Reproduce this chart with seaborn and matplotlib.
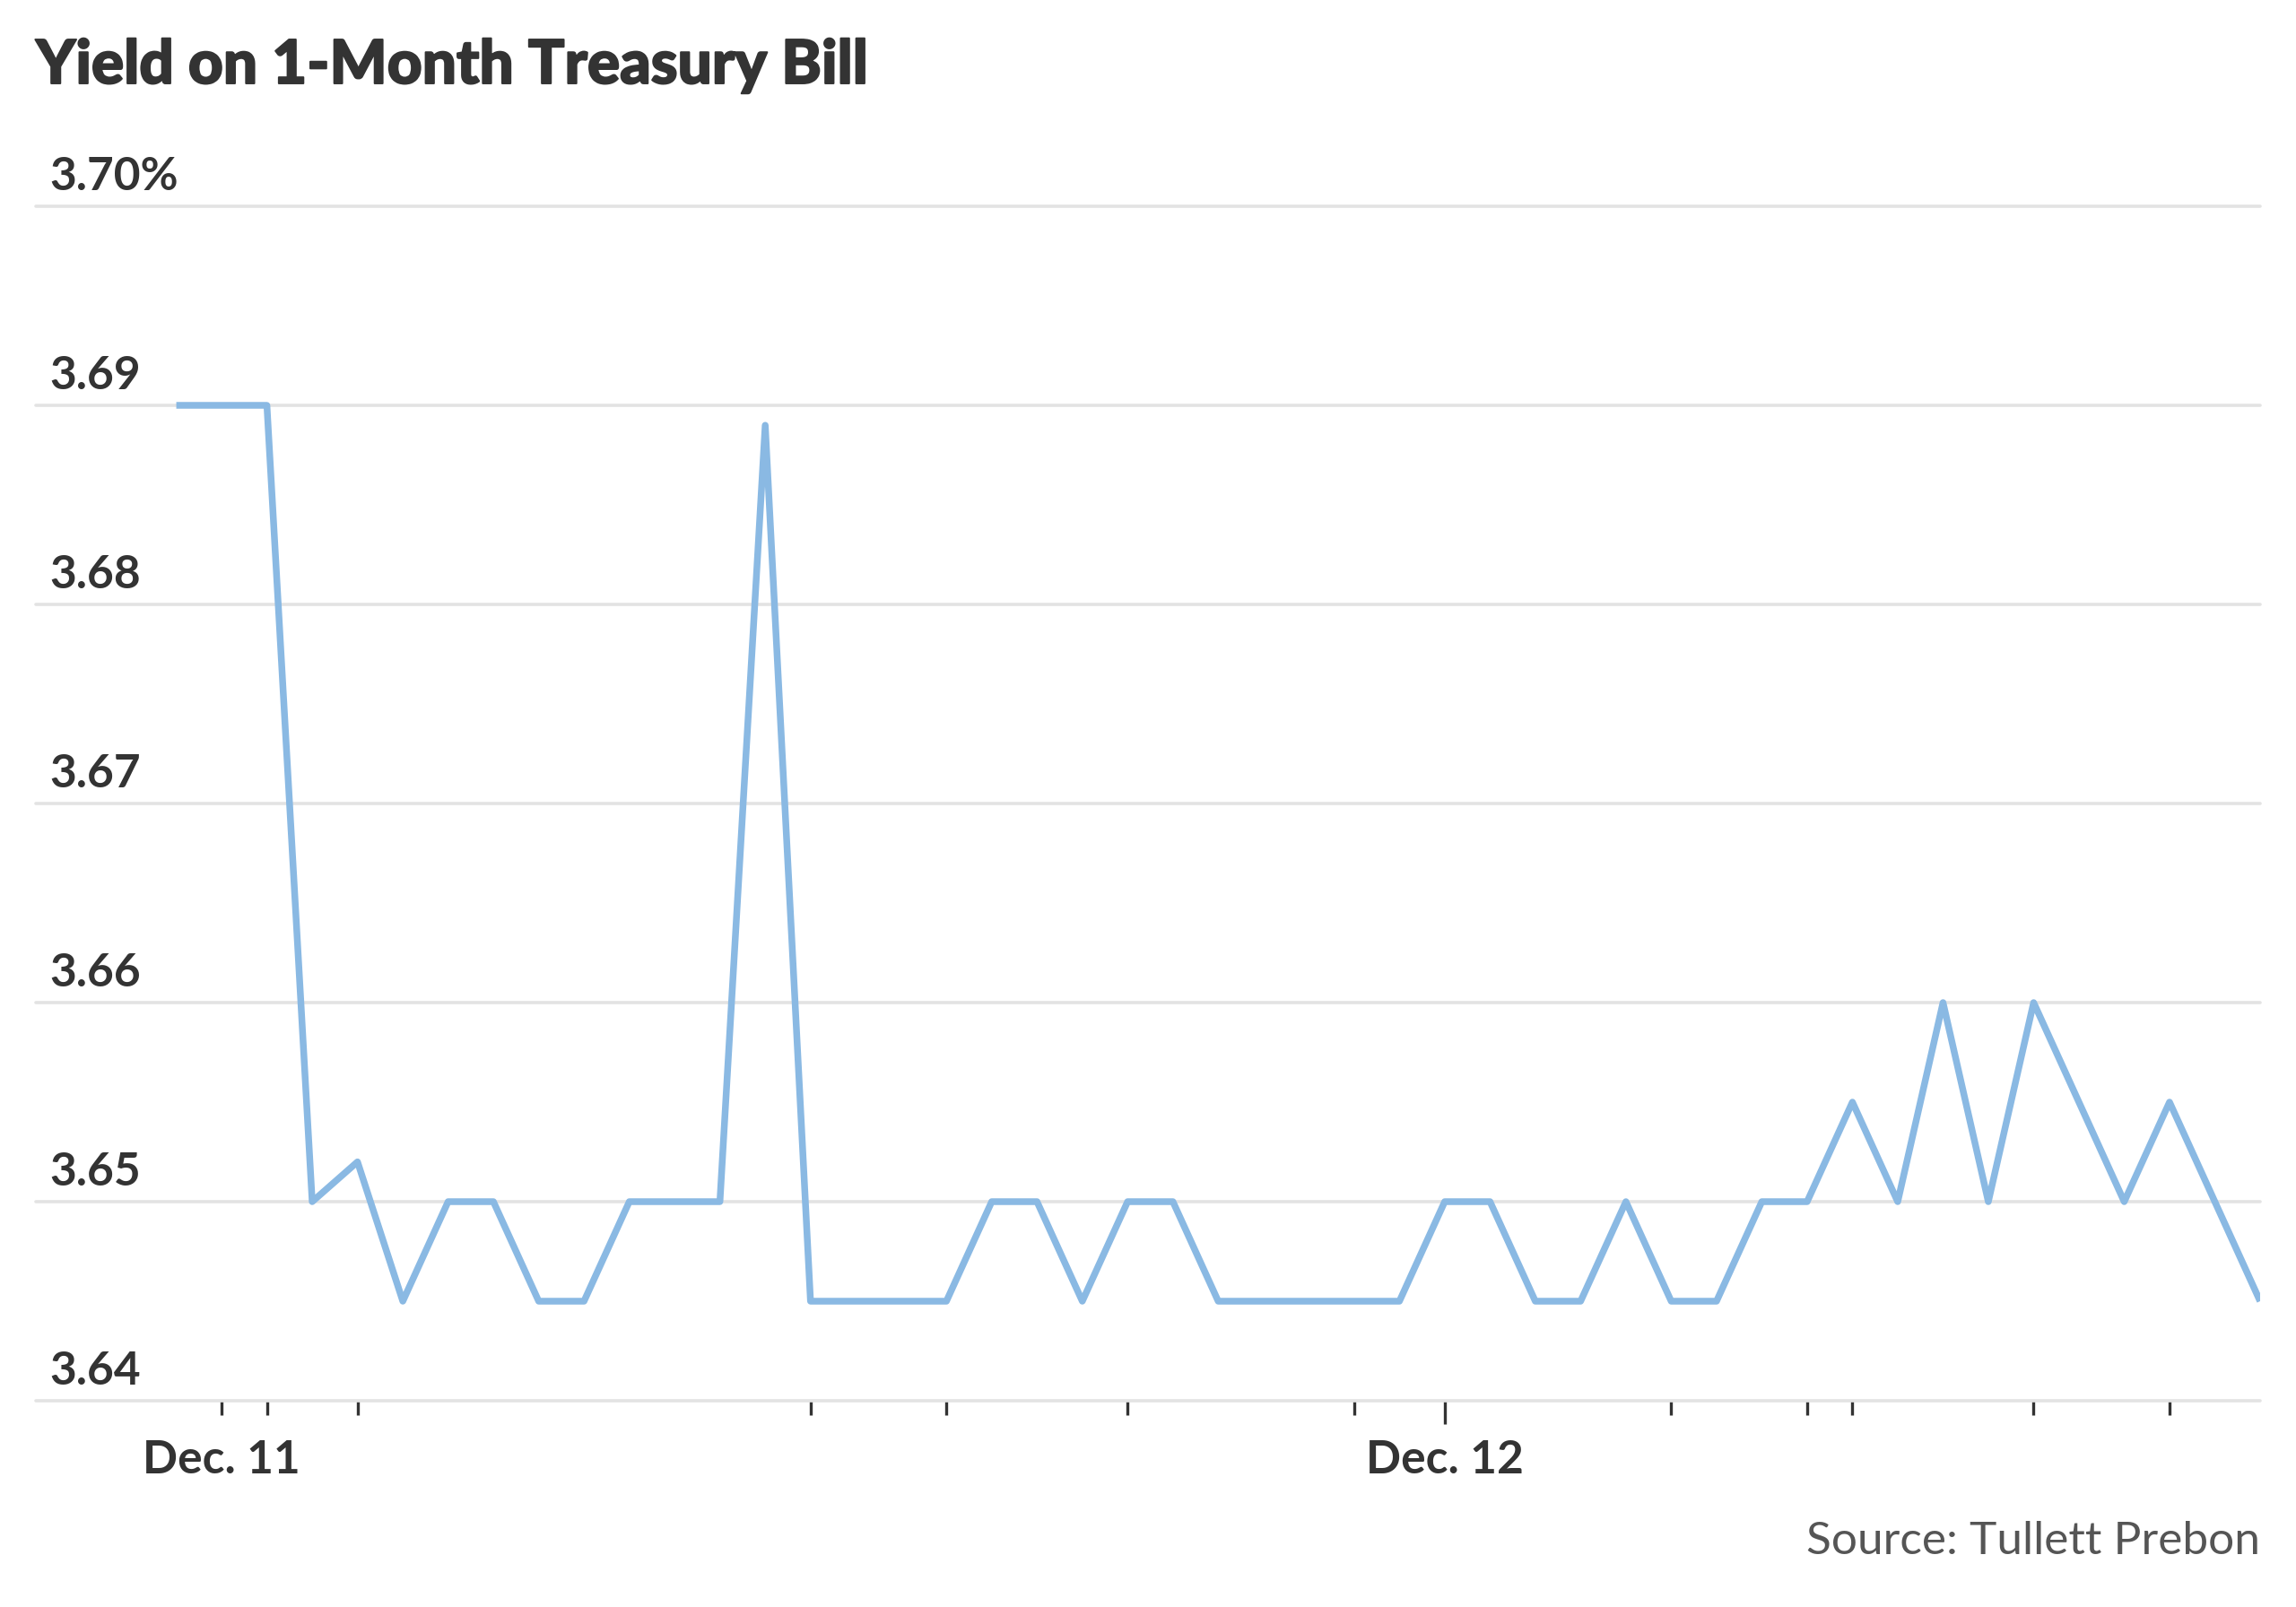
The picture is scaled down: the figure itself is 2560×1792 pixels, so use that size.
import pandas as pd
import seaborn as sns
import matplotlib.pyplot as plt
import matplotlib.patheffects as pe
from matplotlib.transforms import blended_transform_factory, ScaledTranslation

YIELD = [3.69, 3.69, 3.69, 3.65, 3.652, 3.645, 3.65, 3.65, 3.645, 3.645,
         3.65, 3.65, 3.65, 3.689, 3.645, 3.645, 3.645, 3.645, 3.65, 3.65,
         3.645, 3.65, 3.65, 3.645, 3.645, 3.645, 3.645, 3.645, 3.65, 3.65,
         3.645, 3.645, 3.65, 3.645, 3.645, 3.65, 3.65, 3.655, 3.65, 3.66,
         3.65, 3.66, 3.655, 3.65, 3.655, 3.65, 3.645]
OBS = list(range(len(YIELD)))

TICK_POS = [1, 2, 4, 14, 17, 21, 26, 28, 33, 36, 37, 41, 44]
DAY_POS = [1, 28]
DAY_LABELS = ["Dec. 11", "Dec. 12"]

Y_TICKS = [3.64, 3.65, 3.66, 3.67, 3.68, 3.69, 3.70]
Y_LABELS = ["3.64", "3.65", "3.66", "3.67", "3.68", "3.69", "3.70%"]

TITLE = "Yield on 1-Month Treasury Bill"
SOURCE = "Source: Tullett Prebon"

# === STYLE ===
DPI = 200
LINE_COLOR = "#8ab9e3"
GRID_COLOR = "#e3e3e3"
TEXT_COLOR = "#333333"

sns.set_style("white")
plt.rcParams['font.family'] = ['Lato', 'DejaVu Sans']

df = pd.DataFrame({"obs": OBS, "yield": YIELD})

fig = plt.figure(figsize=(2560 / DPI, 1792 / DPI), dpi=DPI)
ax = fig.add_axes([40 / 2560, 1 - 1562 / 1792, (2520 - 40) / 2560, (1562 - 230) / 1792])

sns.lineplot(data=df, x="obs", y="yield", ax=ax, color=LINE_COLOR,
             linewidth=2.7, solid_capstyle="butt", solid_joinstyle="round")

ax.set_xlim(-3.1, len(YIELD) - 1)
ax.set_ylim(3.64, 3.70)
ax.set_xlabel("")
ax.set_ylabel("")
for s in ax.spines.values():
    s.set_visible(False)

# horizontal grid
ax.set_yticks(Y_TICKS)
ax.set_yticklabels([])
ax.tick_params(axis="y", length=0)
ax.yaxis.grid(True, color=GRID_COLOR, linewidth=1.3)
ax.xaxis.grid(False)
for gl in ax.yaxis.get_gridlines():
    gl.set_clip_on(False)

# y labels sit above their gridline, left aligned
trans = blended_transform_factory(ax.transAxes, ax.transData) + \
    ScaledTranslation(15 / DPI, 18 / DPI, fig.dpi_scale_trans)
for v, lab in zip(Y_TICKS, Y_LABELS):
    ax.text(0, v, lab, transform=trans, ha="left", va="baseline",
            fontsize=18.5, fontweight="bold", color=TEXT_COLOR)

# x ticks
ax.set_xticks(TICK_POS, minor=True)
ax.set_xticks(DAY_POS)
ax.set_xticklabels(DAY_LABELS, fontsize=18.5, fontweight="bold", color=TEXT_COLOR)
ax.tick_params(axis="x", which="minor", bottom=True, length=5.8, width=1.2,
               color=TEXT_COLOR, direction="out")
ax.tick_params(axis="x", which="major", bottom=True, length=9.4, width=1.2,
               color=TEXT_COLOR, direction="out", pad=6.2)
# first day tick is a short one in the original
ax.xaxis.get_major_ticks()[0].tick1line.set_markersize(5.8)

# title: heavier look than plain bold
fig.text(40 / 2560, 1 - 93 / 1792, TITLE, ha="left", va="baseline",
         fontsize=24.3, fontweight="black", color=TEXT_COLOR,
         path_effects=[pe.withStroke(linewidth=0.7, foreground=TEXT_COLOR)])
fig.text(2520 / 2560, 1 - 1733 / 1792, SOURCE, ha="right", va="baseline",
         fontsize=18.5, color="#555555")

fig.savefig("out.png", dpi=DPI)
